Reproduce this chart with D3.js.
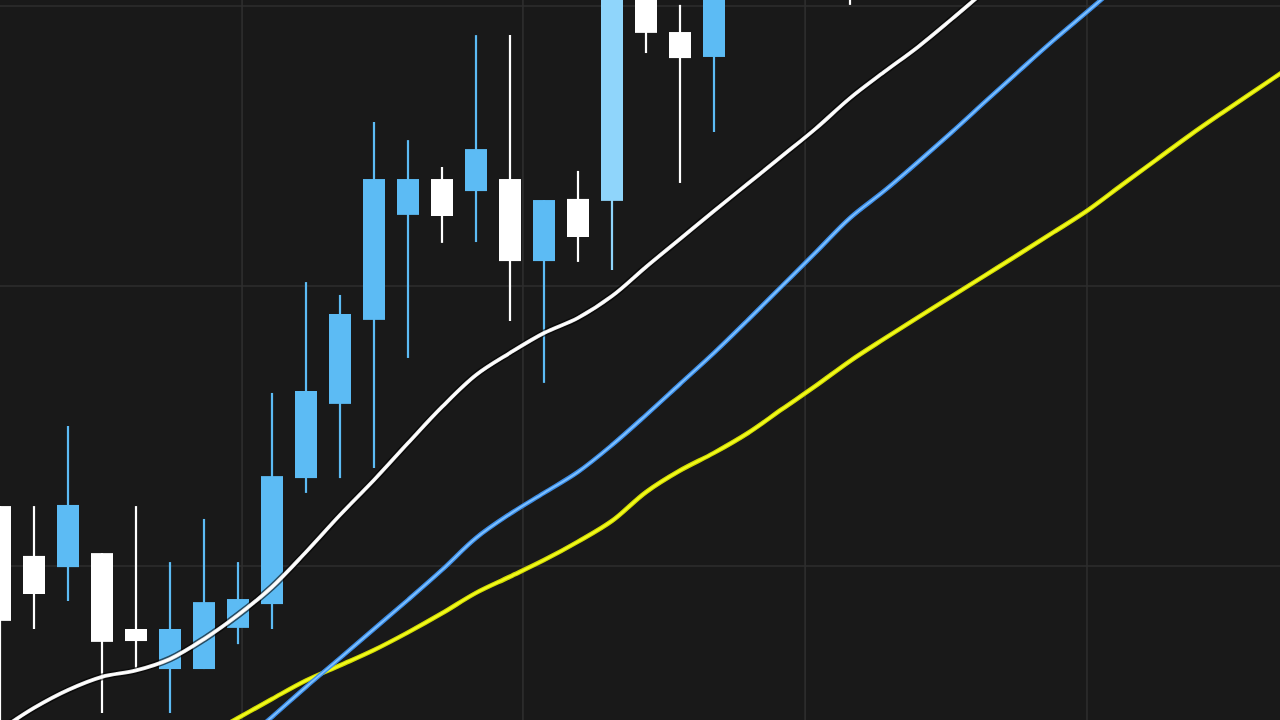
<!DOCTYPE html>
<html>
<head>
<meta charset="utf-8">
<script src="https://cdn.jsdelivr.net/npm/d3@7/dist/d3.min.js"></script>
<style>
  html, body { margin: 0; padding: 0; background: #191919; overflow: hidden; }
  svg { display: block; }
</style>
</head>
<body>
<svg id="chart" width="1280" height="720"></svg>
<script>
// ---- data (price units, bar index on x) ----
const barIndex = [0,1,2,3,4,5,6,7,8,9,10,11,12,13,14,15,16,17,18,19,20,21,25];
const openP  = [102.14,100.36, 99.96,100.46, 97.75, 96.32, 96.32, 97.79, 98.64,103.14,105.79,108.79,112.54,113.82,113.39,113.82,110.89,113.11,113.04,121.29,119.07,118.18,123.00];
const highP  = [102.14,102.14,105.00,100.46,102.14,100.14,101.68,100.14,106.18,110.14,109.68,115.86,115.21,114.25,118.96,118.96,113.07,114.11,123.07,122.00,120.04,122.36,123.60];
const lowP   = [ 93.96, 97.75, 98.75, 94.75, 96.36, 94.75, 96.32, 97.21, 97.75,102.61,103.14,103.50,107.43,111.54,111.57,108.75,106.54,110.86,110.57,118.32,113.68,115.50,120.04];
const closeP = [ 98.04, 99.00,102.18, 97.29, 97.32, 97.75, 98.71, 98.82,103.21,106.25,109.00,113.82,113.82,112.50,114.89,110.89,113.07,111.75,122.36,119.04,118.14,121.64,121.50];

// moving averages (first bar index + values)
const maFastStart = 0;
const maFast = [94.14,94.93,95.57,96.04,96.27,96.68,97.39,98.25,99.25,100.50,101.82,103.07,104.39,105.68,106.82,107.61,108.32,108.86,109.64,110.68,111.68,112.68,113.66,114.64,115.63,116.71,117.64,118.54,119.54,120.57,121.57];
const maMidStart = 7;
const maMid = [93.57,94.61,95.68,96.71,97.75,98.79,99.86,101.00,101.86,102.61,103.36,104.32,105.39,106.50,107.61,108.79,110.00,111.21,112.43,113.39,114.43,115.50,116.61,117.71,118.79,119.82,120.86,121.89];
const maSlowStart = 6;
const maSlow = [93.89,94.57,95.25,95.91,96.45,97.00,97.63,98.31,99.04,99.62,100.21,100.87,101.61,102.64,103.41,104.04,104.75,105.60,106.44,107.32,108.11,108.88,109.64,110.40,111.16,111.93,112.71,113.61,114.50,115.39,116.23,117.05,117.87];

// grid positions
const gridPrices = [100, 110, 120];
const gridBars = [7.12, 15.38, 23.68, 31.97];
const highlightBar = 18;

// ---- scales ----
const W = 1280, H = 720;
const x = d3.scaleLinear().domain([0, 38]).range([0, 1292]);
const y = d3.scaleLinear().domain([100, 110]).range([566, 286]);

const svg = d3.select("#chart");
svg.append("rect").attr("width", W).attr("height", H).attr("fill", "#191919");

// grid
const grid = svg.append("g");
grid.selectAll("line.h").data(gridPrices).join("line")
  .attr("x1", 0).attr("x2", W)
  .attr("y1", d => y(d)).attr("y2", d => y(d))
  .attr("stroke", "#2e2e2e").attr("stroke-width", 1.6);
grid.selectAll("line.v").data(gridBars).join("line")
  .attr("y1", 0).attr("y2", H)
  .attr("x1", d => x(d)).attr("x2", d => x(d))
  .attr("stroke", "#2e2e2e").attr("stroke-width", 1.6);

// candles
const candles = barIndex.map((b, i) => ({ b, o: openP[i], h: highP[i], l: lowP[i], c: closeP[i] }));
const colorOf = d => d.b === highlightBar ? "#8fd5fb" : (d.c >= d.o ? "#5cbbf4" : "#ffffff");
const bodyW = 22;
const cg = svg.append("g");
cg.selectAll("line.wick").data(candles).join("line")
  .attr("x1", d => x(d.b)).attr("x2", d => x(d.b))
  .attr("y1", d => y(d.h)).attr("y2", d => y(d.l))
  .attr("stroke", colorOf).attr("stroke-width", 2.2);
cg.selectAll("rect.body").data(candles).join("rect")
  .attr("x", d => x(d.b) - bodyW / 2)
  .attr("width", bodyW)
  .attr("y", d => y(Math.max(d.o, d.c)))
  .attr("height", d => Math.max(2, Math.abs(y(d.o) - y(d.c))))
  .attr("fill", colorOf);

// moving average lines
function series(start, vals) { return vals.map((v, i) => ({ b: start + i, v })); }
const line = d3.line().x(d => x(d.b)).y(d => y(d.v)).curve(d3.curveCatmullRom.alpha(0.5));

function drawMA(data, outer, outerW, inner, innerW, halo) {
  const g = svg.append("g");
  if (halo) {
    g.append("path").datum(data).attr("d", line).attr("fill", "none")
      .attr("stroke", halo).attr("stroke-width", outerW + 3).attr("stroke-opacity", 0.6)
      .attr("stroke-linejoin", "round");
  }
  g.append("path").datum(data).attr("d", line).attr("fill", "none")
    .attr("stroke", outer).attr("stroke-width", outerW).attr("stroke-linejoin", "round");
  g.append("path").datum(data).attr("d", line).attr("fill", "none")
    .attr("stroke", inner).attr("stroke-width", innerW).attr("stroke-linejoin", "round");
}
drawMA(series(maSlowStart, maSlow), "#d2dc00", 4.5, "#f2fa1e", 2.2, null);
drawMA(series(maMidStart, maMid), "#3d8ee8", 4.5, "#80c2ff", 1.8, null);
drawMA(series(maFastStart, maFast), "#e8e8e8", 3.8, "#ffffff", 2.2, "#000000");
</script>
</body>
</html>
